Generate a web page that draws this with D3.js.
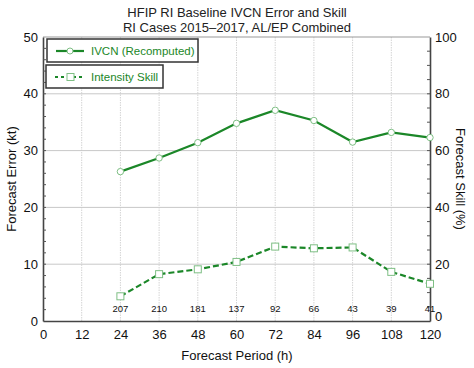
<!DOCTYPE html>
<html><head><meta charset="utf-8">
<script src="https://cdn.jsdelivr.net/npm/d3@7"></script>
<style>body{margin:0;background:#fff;}svg{display:block;font-family:Arial,"Liberation Sans",sans-serif;}</style>
</head><body>
<script>
const hours = [24, 36, 48, 60, 72, 84, 96, 108, 120];
const ivcnError = [26.3, 28.7, 31.4, 34.8, 37.1, 35.3, 31.5, 33.2, 32.3];
const intensitySkill = [8.7, 16.5, 18.2, 20.8, 26.2, 25.6, 25.9, 17.3, 13.1];
const caseCounts = [207, 210, 181, 137, 92, 66, 43, 39, 41];
const xTicks = [0, 12, 24, 36, 48, 60, 72, 84, 96, 108, 120];
const leftTicks = [0, 10, 20, 30, 40, 50];
const rightTicks = [0, 20, 40, 60, 80, 100];

const W = 474, H = 368;
const m = {l: 43, r: 44, t: 37, b: 47};
const green = "#1b8728";
const svg = d3.select("body").append("svg").attr("width", W).attr("height", H);
const x = d3.scaleLinear().domain([0, 120]).range([m.l, W - m.r]);
const yL = d3.scaleLinear().domain([0, 50]).range([H - m.b, m.t]);
const yR = d3.scaleLinear().domain([0, 100]).range([H - m.b, m.t]);

// grid
const g = svg.append("g");
g.selectAll(".vg").data(xTicks.slice(1, -1)).join("line")
  .attr("x1", d => x(d)).attr("x2", d => x(d)).attr("y1", yL(0)).attr("y2", yL(50))
  .attr("stroke", "#d4d4d4").attr("stroke-width", 1).attr("stroke-dasharray", "1.5,1");
g.selectAll(".hg").data(leftTicks.slice(1, -1)).join("line")
  .attr("x1", x(0)).attr("x2", x(120)).attr("y1", d => yL(d)).attr("y2", d => yL(d))
  .attr("stroke", "#c8c8c8").attr("stroke-width", 1);
// top border
svg.append("line").attr("x1", x(0)).attr("x2", x(120)).attr("y1", yL(50)).attr("y2", yL(50))
  .attr("stroke", "#999").attr("stroke-width", 1);

// axes
const axL = svg.append("g").attr("transform", `translate(${x(0)},0)`)
  .call(d3.axisLeft(yL).tickValues(leftTicks).tickSize(0).tickPadding(5));
const axR = svg.append("g").attr("transform", `translate(${x(120)},0)`)
  .call(d3.axisRight(yR).tickValues(rightTicks).tickSize(0).tickPadding(5));
const axB = svg.append("g").attr("transform", `translate(0,${yL(0)})`)
  .call(d3.axisBottom(x).tickValues(xTicks).tickSize(0).tickPadding(9));
[axL, axR, axB].forEach(a => {
  a.select(".domain").attr("stroke", "#444").attr("stroke-width", 1.6);
  a.selectAll("text").attr("font-size", 13).attr("fill", "#111")
    .attr("font-family", "Arial,'Liberation Sans',sans-serif");
});
// lift the right-axis zero label slightly so it clears the "120" tick label
axR.selectAll(".tick").filter(d => d === 0).select("text").attr("dy", "-0.05em");

// minor ticks
svg.append("g").selectAll("line").data(d3.range(2, 50, 2)).join("line")
  .attr("x1", x(0)).attr("x2", x(0) + 3).attr("y1", d => yL(d)).attr("y2", d => yL(d))
  .attr("stroke", "#555");
svg.append("g").selectAll("line").data(d3.range(5, 100, 5)).join("line")
  .attr("x1", x(120)).attr("x2", x(120) - 3).attr("y1", d => yR(d)).attr("y2", d => yR(d))
  .attr("stroke", "#555");

// lines
const lineE = d3.line().x((d, i) => x(hours[i])).y(d => yL(d));
const lineS = d3.line().x((d, i) => x(hours[i])).y(d => yR(d));
svg.append("path").attr("d", lineE(ivcnError)).attr("fill", "none")
  .attr("stroke", green).attr("stroke-width", 2.2);
svg.append("path").attr("d", lineS(intensitySkill)).attr("fill", "none")
  .attr("stroke", green).attr("stroke-width", 2.2).attr("stroke-dasharray", "6,3");
svg.append("g").selectAll("circle").data(ivcnError).join("circle")
  .attr("cx", (d, i) => x(hours[i])).attr("cy", d => yL(d)).attr("r", 3.2)
  .attr("fill", "#fff").attr("stroke", "#7fbf85").attr("stroke-width", 1);
svg.append("g").selectAll("rect").data(intensitySkill).join("rect")
  .attr("x", (d, i) => x(hours[i]) - 3.5).attr("y", d => yR(d) - 3.5)
  .attr("width", 7).attr("height", 7)
  .attr("fill", "#fff").attr("stroke", "#7fbf85").attr("stroke-width", 1);

// counts
svg.append("g").selectAll("text").data(caseCounts).join("text")
  .attr("x", (d, i) => x(hours[i])).attr("y", 312).attr("text-anchor", "middle")
  .attr("font-size", 9.5).attr("fill", "#111").text(d => d);

// legend
const leg = svg.append("g");
leg.append("rect").attr("x", 47).attr("y", 39).attr("width", 151).attr("height", 23)
  .attr("fill", "#fff").attr("stroke", "#333").attr("stroke-width", 1.5);
leg.append("line").attr("x1", 56).attr("x2", 84).attr("y1", 51).attr("y2", 51)
  .attr("stroke", green).attr("stroke-width", 2.2);
leg.append("circle").attr("cx", 70).attr("cy", 51).attr("r", 3).attr("fill", "#fff")
  .attr("stroke", "#7fbf85");
leg.append("text").attr("x", 91).attr("y", 55).attr("font-size", 11.5).attr("fill", green)
  .text("IVCN (Recomputed)");
leg.append("rect").attr("x", 46).attr("y", 65).attr("width", 117).attr("height", 23)
  .attr("fill", "#fff").attr("stroke", "#333").attr("stroke-width", 1.5);
leg.append("line").attr("x1", 55).attr("x2", 84).attr("y1", 77).attr("y2", 77)
  .attr("stroke", green).attr("stroke-width", 2.2).attr("stroke-dasharray", "3,3");
leg.append("rect").attr("x", 67).attr("y", 73.5).attr("width", 7).attr("height", 7)
  .attr("fill", "#fff").attr("stroke", "#7fbf85");
leg.append("text").attr("x", 91).attr("y", 81).attr("font-size", 11.5).attr("fill", green)
  .text("Intensity Skill");

// titles
svg.append("text").attr("x", 237).attr("y", 17).attr("text-anchor", "middle")
  .attr("font-size", 13).attr("fill", "#222").text("HFIP RI Baseline IVCN Error and Skill");
svg.append("text").attr("x", 237).attr("y", 32).attr("text-anchor", "middle")
  .attr("font-size", 13).attr("fill", "#222").text("RI Cases 2015\u20132017, AL/EP Combined");
svg.append("text").attr("x", 237).attr("y", 360).attr("text-anchor", "middle")
  .attr("font-size", 13).attr("fill", "#111").text("Forecast Period (h)");
svg.append("text").attr("transform", `translate(16,${(yL(0) + yL(50)) / 2}) rotate(-90)`)
  .attr("text-anchor", "middle").attr("font-size", 13).attr("fill", "#111")
  .text("Forecast Error (kt)");
svg.append("text").attr("transform", `translate(456,${(yL(0) + yL(50)) / 2}) rotate(90)`)
  .attr("text-anchor", "middle").attr("font-size", 13).attr("fill", "#111")
  .text("Forecast Skill (%)");
</script>
</body></html>
